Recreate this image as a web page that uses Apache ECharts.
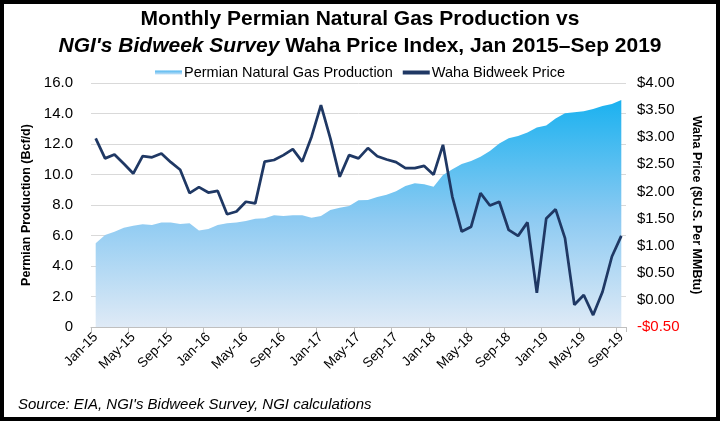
<!DOCTYPE html>
<html>
<head>
<meta charset="utf-8">
<script src="https://cdn.jsdelivr.net/npm/echarts@6/dist/echarts.min.js"></script>
<style>
html,body{margin:0;padding:0;background:#fff;}
#chart{width:720px;height:421px;}
</style>
</head>
<body>
<div id="chart"></div>
<script>
var months = ["Jan-15","Feb-15","Mar-15","Apr-15","May-15","Jun-15","Jul-15","Aug-15","Sep-15","Oct-15","Nov-15","Dec-15",
"Jan-16","Feb-16","Mar-16","Apr-16","May-16","Jun-16","Jul-16","Aug-16","Sep-16","Oct-16","Nov-16","Dec-16",
"Jan-17","Feb-17","Mar-17","Apr-17","May-17","Jun-17","Jul-17","Aug-17","Sep-17","Oct-17","Nov-17","Dec-17",
"Jan-18","Feb-18","Mar-18","Apr-18","May-18","Jun-18","Jul-18","Aug-18","Sep-18","Oct-18","Nov-18","Dec-18",
"Jan-19","Feb-19","Mar-19","Apr-19","May-19","Jun-19","Jul-19","Aug-19","Sep-19"];

var production = [5.49,6.03,6.25,6.51,6.64,6.73,6.69,6.86,6.86,6.75,
6.80,6.32,6.42,6.69,6.80,6.86,6.95,7.10,7.13,7.32,
7.28,7.32,7.32,7.17,7.28,7.67,7.82,7.93,8.31,8.33,
8.52,8.68,8.90,9.25,9.42,9.36,9.20,9.97,10.34,10.69,
10.89,11.17,11.54,12.04,12.37,12.52,12.76,13.09,13.22,13.68,
14.01,14.08,14.14,14.30,14.49,14.62,14.89];

var wahaPrice = [2.98,2.61,2.68,2.51,2.33,2.65,2.63,2.70,2.54,2.40,
1.97,2.08,1.98,2.01,1.58,1.63,1.81,1.78,2.55,2.58,
2.67,2.78,2.55,3.01,3.59,2.98,2.27,2.67,2.61,2.80,
2.65,2.59,2.54,2.43,2.43,2.47,2.31,2.86,1.90,1.26,
1.35,1.97,1.74,1.81,1.29,1.18,1.43,0.13,1.50,1.67,
1.14,-0.09,0.09,-0.28,0.15,0.80,1.18];

var seriesNames = ["Permian Natural Gas Production", "Waha Bidweek Price"];

var FONT = "'Liberation Sans', Arial, sans-serif";
var chart = echarts.init(document.getElementById('chart'), null, {renderer:'canvas'});

var areaGradient = new echarts.graphic.LinearGradient(0, 83, 0, 327, [
  {offset:0, color:'#0aaeef'},
  {offset:0.55, color:'#8ccaf2'},
  {offset:1, color:'#dfeaf6'}
], true);
var legendGradient = new echarts.graphic.LinearGradient(0, 0, 0, 1, [
  {offset:0, color:'#4fb6f0'},
  {offset:1, color:'#c8e2f7'}
]);

chart.setOption({
  animation:false,
  backgroundColor:'#fff',
  textStyle:{fontFamily:FONT},
  title:{
    left:'center', top:1,
    text:"{b|Monthly Permian Natural Gas Production vs}\n{bi|NGI's Bidweek Survey}{b| Waha Price Index, Jan 2015\u2013Sep 2019}",
    textStyle:{
      rich:{
        b:{fontFamily:FONT, fontWeight:'bold', fontSize:21, color:'#000', lineHeight:27},
        bi:{fontFamily:FONT, fontWeight:'bold', fontStyle:'italic', fontSize:21, color:'#000', lineHeight:27}
      }
    }
  },
  legend:{
    top:60, left:'center',
    itemWidth:27, itemHeight:4, itemGap:10,
    textStyle:{fontFamily:FONT, fontSize:14.5, color:'#000', padding:[0,0,0,-3]},
    data:[
      {name:seriesNames[0], icon:'rect', itemStyle:{color:legendGradient}},
      {name:seriesNames[1], icon:'rect', itemStyle:{color:'#1f3864'}}
    ]
  },
  grid:{left:91, right:94, top:83, bottom:94, containLabel:false},
  xAxis:{
    type:'category', data:months, boundaryGap:true,
    axisLine:{show:true, lineStyle:{color:'#bfbfbf', width:1}},
    axisTick:{show:true, interval:3, length:5, lineStyle:{color:'#bfbfbf'}},
    axisLabel:{interval:3, rotate:45, fontFamily:FONT, fontSize:13.5, color:'#000', margin:8}
  },
  yAxis:[
    {
      type:'value', min:0, max:16, interval:2,
      name:'Permian Production (Bcf/d)', nameLocation:'middle', nameGap:57, nameRotate:90,
      nameTextStyle:{fontFamily:FONT, fontWeight:'bold', fontSize:12.5, color:'#000'},
      axisLine:{show:false}, axisTick:{show:false},
      splitLine:{show:true, lineStyle:{color:'#d9d9d9', width:1}},
      axisLabel:{fontFamily:FONT, fontSize:15, color:'#000', margin:18,
        formatter:function(v){return v===0?'0':v.toFixed(1);}}
    },
    {
      type:'value', min:-0.5, max:4, interval:0.5, position:'right',
      name:'Waha Price ($U.S. Per MMBtu)', nameLocation:'middle', nameGap:64, nameRotate:-90,
      nameTextStyle:{fontFamily:FONT, fontWeight:'bold', fontSize:12.5, color:'#000'},
      axisLine:{show:false}, axisTick:{show:false}, splitLine:{show:false},
      axisLabel:{fontFamily:FONT, fontSize:15, color:'#000', margin:11,
        formatter:function(v){
          if(v<0){return '{neg|-$'+Math.abs(v).toFixed(2)+'}';}
          return '$'+v.toFixed(2);
        },
        rich:{neg:{color:'#ff0000', fontFamily:FONT, fontSize:15}}
      }
    }
  ],
  series:[
    {
      name:seriesNames[0], type:'line', data:production, yAxisIndex:0,
      symbol:'none', showSymbol:false,
      lineStyle:{width:0, opacity:0},
      areaStyle:{color:areaGradient, opacity:1},
      itemStyle:{color:'#4fb6f0'},
      z:1
    },
    {
      name:seriesNames[1], type:'line', data:wahaPrice, yAxisIndex:1,
      symbol:'none', showSymbol:false,
      lineStyle:{width:2.75, color:'#1f3864'},
      itemStyle:{color:'#1f3864'},
      z:3
    }
  ],
  graphic:[
    {type:'text', left:18, top:397, style:{text:"Source: EIA, NGI's Bidweek Survey, NGI calculations",
      font:"italic 15px " + FONT, fill:'#000'}},
    {type:'rect', shape:{x:2, y:2, width:716, height:417}, style:{fill:'none', stroke:'#000', lineWidth:4}, silent:true}
  ]
});
</script>
</body>
</html>
